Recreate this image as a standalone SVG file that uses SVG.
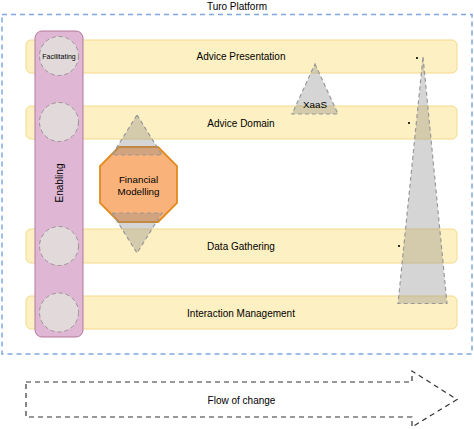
<svg xmlns="http://www.w3.org/2000/svg" width="474" height="429" viewBox="0 0 474 429">
<defs>
<style>
text{font-family:"Liberation Sans",Arial,sans-serif;fill:#000;text-anchor:middle;dominant-baseline:central}
.band{fill:#fdf0c2;stroke:#f3da8c;stroke-width:1}
.gray{fill:#888;fill-opacity:0.35;stroke:#999;stroke-width:1.2;stroke-dasharray:4 3}
.circ{fill:#e2dada;stroke:#9c9494;stroke-width:1;stroke-dasharray:4 3}
.dot{fill:#000}
</style>
</defs>
<rect width="474" height="429" fill="#fff"/>
<g id="platform">
<rect x="2" y="14.5" width="470" height="339.5" fill="none" stroke="#7ea6e0" stroke-width="1.5" stroke-dasharray="5 4"/>
<text x="237" y="6" font-size="10">Turo Platform</text>
</g>
<g id="advice-presentation">
<rect class="band" x="26" y="40" width="431" height="33" rx="5"/>
<text x="241" y="56" font-size="10">Advice Presentation</text>
</g>
<g id="advice-domain">
<rect class="band" x="26" y="106" width="431" height="33" rx="5"/>
<text x="241" y="123" font-size="10">Advice Domain</text>
</g>
<g id="data-gathering">
<rect class="band" x="26" y="229" width="431" height="34" rx="5"/>
<text x="241" y="246.5" font-size="10">Data Gathering</text>
</g>
<g id="interaction-management">
<rect class="band" x="26" y="296" width="431" height="33" rx="5"/>
<text x="241" y="313" font-size="10">Interaction Management</text>
</g>
<g id="enabling">
<rect x="35" y="31" width="48" height="306" rx="7" fill="#dfb6d3" stroke="#b5799f" stroke-width="1"/>
<text transform="translate(59.5,183) rotate(-90)" font-size="10">Enabling</text>
</g>
<g id="facilitating">
<circle class="circ" cx="59" cy="56" r="19.5"/>
<text x="59" y="56" font-size="7">Facilitating</text>
</g>
<g id="circle-2"><circle class="circ" cx="59" cy="122" r="19.5"/></g>
<g id="circle-3"><circle class="circ" cx="59" cy="246" r="19.5"/></g>
<g id="circle-4"><circle class="circ" cx="59" cy="312.5" r="19.5"/></g>
<g id="financial-modelling">
<polygon points="119,147 158,147 177,166 177,203 158,222 119,222 100,203 100,166" fill="#f9b27a" stroke="#e08a1e" stroke-width="1.8"/>
<text x="138.5" y="179" font-size="9.8">Financial</text>
<text x="138.5" y="191" font-size="9.8">Modelling</text>
</g>
<g id="fm-top"><polygon class="gray" points="137,115 162,155 112,155"/></g>
<g id="fm-bottom"><polygon class="gray" points="112,213 162,213 137,253"/></g>
<g id="xaas">
<polygon class="gray" points="315,64 338,114 292,114"/>
<text x="315" y="104" font-size="9.8">XaaS</text>
</g>
<g id="tall-triangle">
<polygon class="gray" points="423,57 447,303.5 398,303.5"/>
</g>
<g id="dots">
<circle class="dot" cx="417" cy="58" r="1.1"/>
<circle class="dot" cx="409" cy="123" r="1.1"/>
<circle class="dot" cx="399" cy="246" r="1.1"/>
</g>
<g id="flow-of-change">
<polygon points="26,382 412,382 412,371 457,399.5 412,427 412,417 26,417" fill="none" stroke="#333" stroke-width="1.2" stroke-dasharray="5 4"/>
<text x="241.5" y="400" font-size="10">Flow of change</text>
</g>
<g id="connectors"></g>
</svg>
